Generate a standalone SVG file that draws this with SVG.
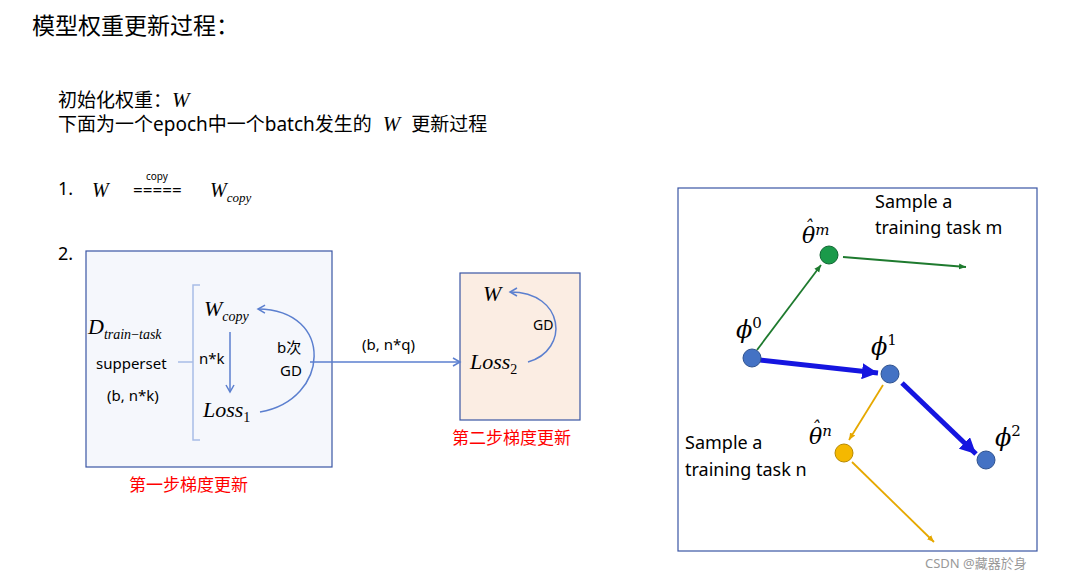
<svg xmlns="http://www.w3.org/2000/svg" width="1077" height="580" viewBox="0 0 1077 580">
<style>
.cn{font-family:"Noto Sans","Noto Sans CJK SC",sans-serif;fill:#000}
.m{font-family:"Liberation Serif",serif;font-style:italic;fill:#000}
.red{font-family:"Noto Sans","Noto Sans CJK SC",sans-serif;fill:#f00;font-size:17px}
.mr{font-family:"DejaVu Serif",serif;font-style:italic;fill:#000}
.bl{stroke:#5b7fcf;stroke-width:1.5;fill:none}
</style>
<defs>
<marker id="ab" markerWidth="10" markerHeight="10" refX="8" refY="5" orient="auto" markerUnits="userSpaceOnUse"><path d="M1,1 L8,5 L1,9" fill="none" stroke="#5b7fcf" stroke-width="1.5"/></marker>
<marker id="ag" markerWidth="8" markerHeight="8" refX="7" refY="4" orient="auto" markerUnits="userSpaceOnUse"><path d="M0,1 L7,4 L0,7z" fill="#1e7a2e"/></marker>
<marker id="ao" markerWidth="8" markerHeight="8" refX="7" refY="4" orient="auto" markerUnits="userSpaceOnUse"><path d="M0,1 L7,4 L0,7z" fill="#e6a800"/></marker>
<marker id="abl" markerWidth="18" markerHeight="16" refX="16" refY="8" orient="auto" markerUnits="userSpaceOnUse"><path d="M0,0 L16,8 L0,16z" fill="#1515e0"/></marker>
</defs>
<rect width="1077" height="580" fill="#fff"/>
<text class="cn" x="32" y="34" font-size="23">模型权重更新过程：</text>
<text class="cn" x="58" y="107" font-size="19">初始化权重：<tspan class="m" font-size="21">W</tspan></text>
<text class="cn" x="58" y="131" font-size="19" word-spacing="6">下面为一个epoch中一个batch发生的 <tspan class="m" font-size="21">W</tspan> 更新过程</text>
<text class="cn" x="58" y="195" font-size="18">1.</text>
<text class="m" x="92" y="197" font-size="20">W</text>
<text class="cn" x="133" y="196" font-size="17">=====</text>
<text class="cn" x="146" y="180" font-size="10">copy</text>
<text class="m" x="210" y="197" font-size="20">W<tspan font-size="13" dy="5">copy</tspan></text>
<text class="cn" x="58" y="260" font-size="18">2.</text>

<g id="box1">
<rect x="86" y="251" width="246" height="216" fill="#f5f7fc" stroke="#3a55a4" stroke-width="1.2"/>
<text class="m" x="88" y="334" font-size="22">D<tspan font-size="14" dy="5">train</tspan><tspan font-size="14" font-style="normal">−</tspan><tspan font-size="14">task</tspan></text>
<text class="cn" x="96" y="369" font-size="15">supperset</text>
<text class="cn" x="107" y="401" font-size="15">(b, n*k)</text>
<path d="M200,285 H193 V440 H200 M178,362 H193" fill="none" stroke="#a8bde6" stroke-width="1.5"/>
<text class="m" x="204" y="316" font-size="22">W<tspan font-size="14" dy="5">copy</tspan></text>
<text class="cn" x="199" y="364" font-size="15">n*k</text>
<text class="m" x="203" y="417" font-size="22">Loss<tspan font-size="14" dy="5" font-style="normal">1</tspan></text>
<text class="cn" x="277" y="353" font-size="15">b次</text>
<text class="cn" x="280" y="376" font-size="15">GD</text>
<text class="red" x="129" y="491">第一步梯度更新</text>
</g>
<g id="box2">
<rect x="460" y="273" width="120" height="147" fill="#fbede3" stroke="#3a55a4" stroke-width="1.2"/>
<text class="m" x="483" y="301" font-size="22">W</text>
<text class="m" x="470" y="369" font-size="22">Loss<tspan font-size="14" dy="5" font-style="normal">2</tspan></text>
<text class="cn" x="533" y="330" font-size="14">GD</text>
<text class="red" x="452" y="444">第二步梯度更新</text>
</g>
<text class="cn" x="362" y="350" font-size="15">(b, n*q)</text>
<g id="connectors">
<line class="bl" x1="230" y1="332" x2="230" y2="392" marker-end="url(#ab)"/>
<path class="bl" d="M260,412 C330,400 335,310 258,309" marker-end="url(#ab)"/>
<line class="bl" x1="310" y1="362" x2="460" y2="362" marker-end="url(#ab)"/>
<path class="bl" d="M528,362 C570,350 565,292 510,292" marker-end="url(#ab)"/>
<line x1="757" y1="350" x2="821" y2="265" stroke="#1e7a2e" stroke-width="1.8" marker-end="url(#ag)"/>
<line x1="843" y1="257" x2="966" y2="267" stroke="#1e7a2e" stroke-width="1.8" marker-end="url(#ag)"/>
<line x1="760" y1="360" x2="878" y2="373" stroke="#1515e0" stroke-width="5" marker-end="url(#abl)"/>
<line x1="902" y1="383" x2="976" y2="454" stroke="#1515e0" stroke-width="5" marker-end="url(#abl)"/>
<line x1="883" y1="385" x2="849" y2="440" stroke="#e6a800" stroke-width="1.8" marker-end="url(#ao)"/>
<line x1="852" y1="462" x2="934" y2="542" stroke="#e6a800" stroke-width="1.8" marker-end="url(#ao)"/>
</g>
<rect x="678" y="188" width="359" height="363" fill="none" stroke="#3a55a4" stroke-width="1.2"/>
<g id="phi0"><circle cx="752" cy="358" r="9" fill="#4472c4" stroke="#2f528f"/><text class="mr" x="736" y="338" font-size="24">ϕ<tspan font-size="15" dy="-10" font-style="normal">0</tspan></text></g>
<g id="phi1"><circle cx="890" cy="374" r="9" fill="#4472c4" stroke="#2f528f"/><text class="mr" x="871" y="355" font-size="24">ϕ<tspan font-size="15" dy="-10" font-style="normal">1</tspan></text></g>
<g id="phi2"><circle cx="986" cy="460" r="9" fill="#4472c4" stroke="#2f528f"/><text class="mr" x="995" y="446" font-size="24">ϕ<tspan font-size="15" dy="-10" font-style="normal">2</tspan></text></g>
<g id="thm"><circle cx="829" cy="255" r="9" fill="#1a9a4a" stroke="#116633"/><text class="mr" x="802" y="243" font-size="22">θ<tspan font-size="15" dy="-8">m</tspan></text><text class="mr" x="804" y="234" font-size="18" font-style="normal">ˆ</text></g>
<g id="thn"><circle cx="844" cy="453" r="9" fill="#f5b800" stroke="#b88a00"/><text class="mr" x="809" y="444" font-size="22">θ<tspan font-size="15" dy="-8">n</tspan></text><text class="mr" x="811" y="435" font-size="18" font-style="normal">ˆ</text></g>
<text class="cn" x="875" y="208" font-size="18">Sample a</text>
<text class="cn" x="875" y="234" font-size="18">training task m</text>
<text class="cn" x="685" y="449" font-size="18">Sample a</text>
<text class="cn" x="685" y="476" font-size="18">training task n</text>
<text x="925" y="568" font-size="13" style="fill:#999;font-family:'Noto Sans','Noto Sans CJK SC',sans-serif">CSDN @藏器於身</text>
</svg>
